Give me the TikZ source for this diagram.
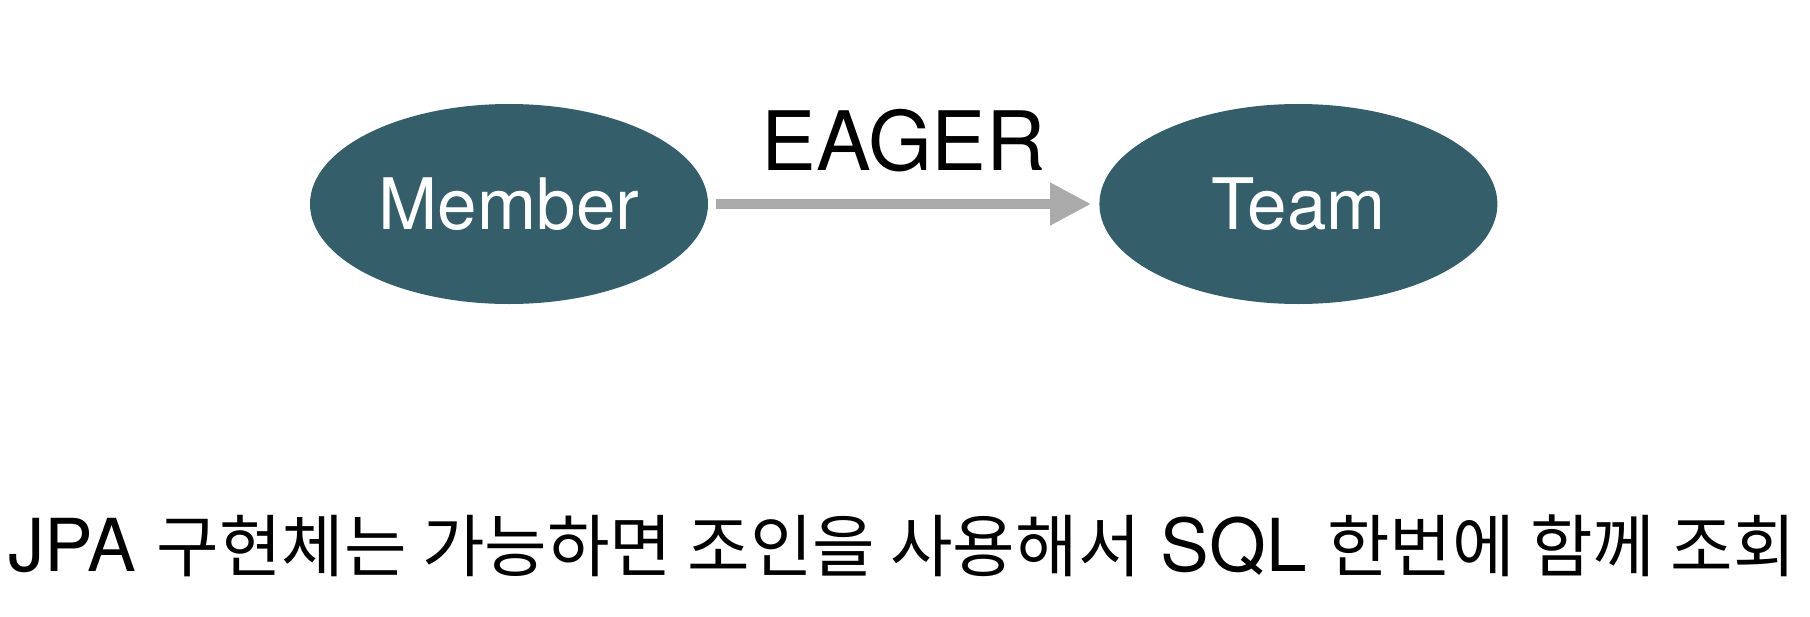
\documentclass[tikz,border=0pt]{standalone}
\usepackage{fontspec}
\setmainfont{TeX Gyre Heros}
\newfontfamily\krfont{Noto Sans CJK KR}
\usetikzlibrary{arrows.meta, shapes.geometric, positioning}
\definecolor{entityfill}{RGB}{51,94,106}
\definecolor{fetchgray}{RGB}{170,170,170}
\tikzset{entity/.style={ellipse, fill=entityfill, text=white, minimum width=398pt, minimum height=200pt, inner sep=0pt, font=\fontsize{71}{71}\selectfont}, fetch/.style={-{Triangle[length=41pt,width=40pt]}, color=fetchgray, line width=10pt, shorten <=8pt, shorten >=8pt}}

\begin{document}
\begin{tikzpicture}[x=1pt, y=-1pt]
	\useasboundingbox (0,0) rectangle (1810,616);
	\node[entity] (member) at (509,204) {Member};
	\node[entity] (team) [right=391pt of member] {Team};
	\path[fetch]
		(member) edge node [above=29pt, inner sep=0pt, text depth=0pt, text=black, font=\fontsize{82}{82}\selectfont] (eager) {EAGER} (team)
		;
	\node[anchor=base, inner sep=0pt, font=\fontsize{73}{73}\selectfont] (caption) at (902,571) {JPA {\krfont\fontsize{68}{68}\selectfont 구현체는 가능하면 조인을 사용해서} SQL {\krfont\fontsize{68}{68}\selectfont 한번에 함께 조회}};
\end{tikzpicture}
\end{document}
